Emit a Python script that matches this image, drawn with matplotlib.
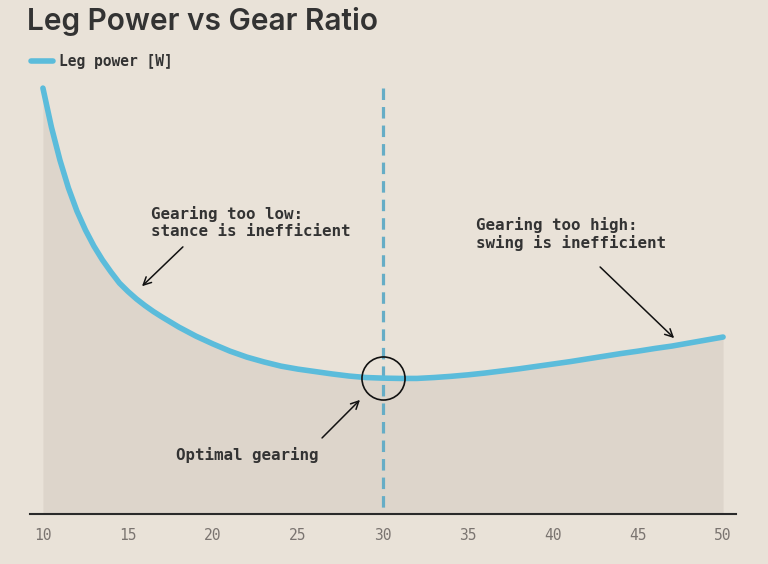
import matplotlib
matplotlib.use("Agg")
import matplotlib.pyplot as plt

# gear ratio vs leg power
gear_ratio = [10.0, 10.5, 11.0, 11.5, 12.0, 12.5, 13.0, 13.5, 14.0, 14.5,
              15.0, 15.5, 16.0, 16.5, 17.0, 17.5, 18.0, 19, 20, 21, 22, 23,
              24, 25, 26, 27, 28, 29, 30, 31, 32, 33, 34, 35, 36, 37, 38, 39,
              40, 41, 42, 43, 44, 45, 46, 47, 48, 49, 50]
leg_power = [142.0, 129.0, 118.0, 108.7, 101.0, 94.7, 89.3, 84.7, 80.7, 77.0,
             74.2, 71.7, 69.5, 67.5, 65.7, 64.0, 62.3, 59.3, 56.7, 54.3, 52.3,
             50.7, 49.3, 48.3, 47.5, 46.7, 46.0, 45.5, 45.3, 45.2, 45.2, 45.5,
             45.9, 46.4, 47.0, 47.7, 48.4, 49.2, 50.0, 50.8, 51.7, 52.6, 53.5,
             54.3, 55.2, 56.0, 57.0, 58.0, 59.0]
ticks = [10, 15, 20, 25, 30, 35, 40, 45, 50]
optimum = 30
optimum_power = 45.3

bg = "#e9e2d8"
fill_c = "#ddd5cb"
line_c = "#5bbcdb"
mono = "DejaVu Sans Mono"

fig = plt.figure(figsize=(7.68, 5.64), dpi=100, facecolor=bg)
ax = fig.add_axes([30 / 768, 50 / 564, 706 / 768, 434 / 564])
ax.set_facecolor(bg)

ax.fill_between(gear_ratio, leg_power, 0, color=fill_c, lw=0, zorder=1)
ax.plot(gear_ratio, leg_power, color=line_c, lw=4, solid_capstyle="round",
        solid_joinstyle="round", label="Leg power [W]", zorder=3)
# dashed marker line, drawn from the top down so the first dash sits at the top
ax.plot([optimum, optimum], [leg_power[0], 0], color="#66adc6", lw=2.3,
        dashes=(3.6, 2.2), zorder=2)

# circle round the minimum
ax.plot(optimum, optimum_power, "o", ms=31, mfc="none", mec="#111111",
        mew=1.2, zorder=4)

ax.set_xlim(9.24, 50.76)
ax.set_ylim(0, 144.7)
ax.set_xticks(ticks)
ax.set_yticks([])
for s in ["top", "right", "left"]:
    ax.spines[s].set_visible(False)
ax.spines["bottom"].set_color("#2a2a2a")
ax.spines["bottom"].set_linewidth(1.5)
ax.tick_params(axis="x", length=0, pad=10, labelsize=10.5, labelcolor="#7a7470")
for lab in ax.get_xticklabels():
    lab.set_family(mono)

akw = dict(arrowstyle="->", color="#111111", lw=1.1, mutation_scale=14)
tkw = dict(family=mono, fontsize=11.4, fontweight="bold", color="#333333",
           va="center", ha="left", linespacing=1.2)
ax.annotate("", xy=(15.71, 75.3), xytext=(18.35, 89.7), arrowprops=akw)
ax.annotate("", xy=(47.24, 58.0), xytext=(42.65, 83.0), arrowprops=akw)
ax.annotate("", xy=(28.76, 38.7), xytext=(26.3, 24.7), arrowprops=akw)
ax.text(16.35, 97.2, "Gearing too low:\nstance is inefficient", **tkw)
ax.text(35.47, 93.3, "Gearing too high:\nswing is inefficient", **tkw)
ax.text(17.82, 19.7, "Optimal gearing", **tkw)

fig.text(27 / 768, 1 - 22 / 564, "Leg Power vs Gear Ratio", family="Inter",
         fontsize=21.5, fontweight="semibold", color="#333333", va="center")
leg = ax.legend(loc="upper left", bbox_to_anchor=(-5 / 706, 1 + 32 / 434),
                frameon=False, handlelength=1.5, handletextpad=0.4,
                borderaxespad=0, prop=dict(family=mono, size=10.5, weight="bold"))
for t in leg.get_texts():
    t.set_color("#333333")

fig.savefig("out.png", dpi=100, facecolor=bg)
